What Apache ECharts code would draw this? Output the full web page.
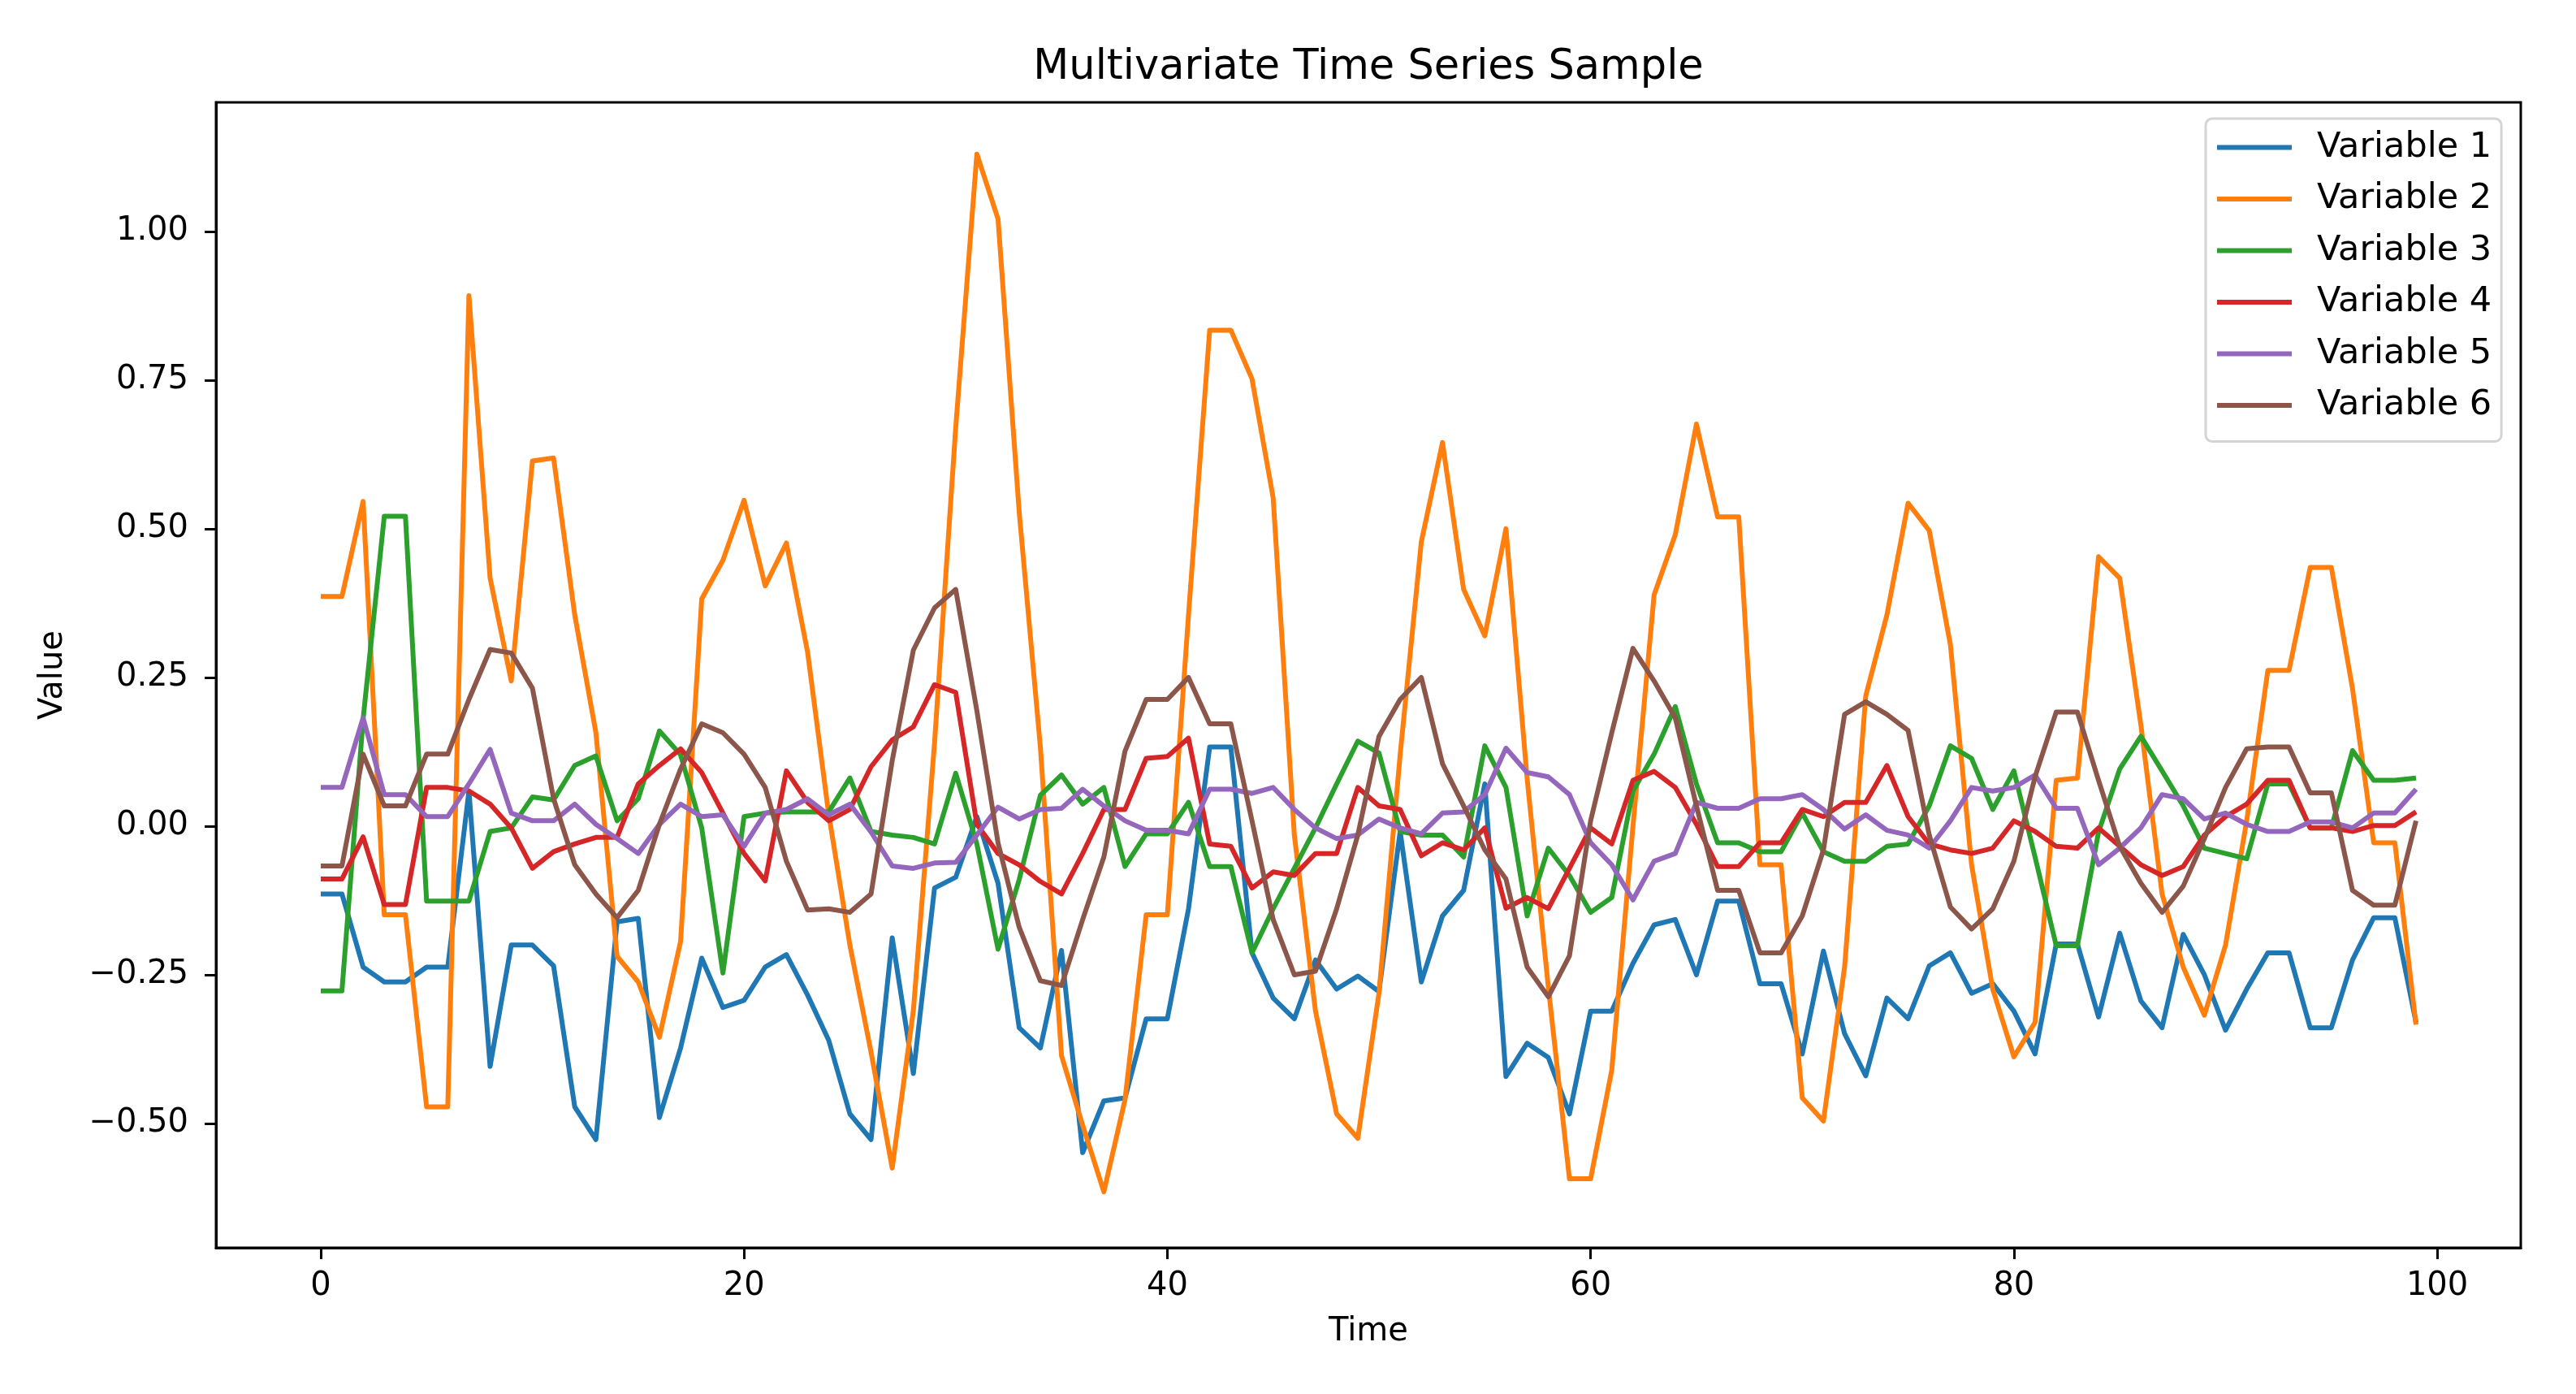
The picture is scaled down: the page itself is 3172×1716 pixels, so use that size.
<!DOCTYPE html>
<html>
<head>
<meta charset="utf-8">
<script src="https://cdn.jsdelivr.net/npm/echarts@6/dist/echarts.min.js"></script>
<style>
html,body{margin:0;padding:0;background:#fff;}
#chart{width:3172px;height:1716px;}
</style>
</head>
<body>
<div id="chart"></div>
<script>
const seriesNames = ['Variable 1','Variable 2','Variable 3','Variable 4','Variable 5','Variable 6'];
const xTicks = [0,20,40,60,80,100];
const yTicks = [-0.5,-0.25,0,0.25,0.5,0.75,1.0];

const variable1 = [-0.114,-0.114,-0.237,-0.262,-0.262,-0.237,-0.237,0.059,-0.404,-0.200,
-0.200,-0.235,-0.472,-0.527,-0.161,-0.155,-0.490,-0.373,-0.222,-0.305,
-0.293,-0.237,-0.216,-0.284,-0.360,-0.484,-0.527,-0.188,-0.416,-0.104,
-0.086,0.016,-0.096,-0.339,-0.373,-0.209,-0.549,-0.462,-0.457,-0.324,
-0.324,-0.139,0.133,0.133,-0.213,-0.289,-0.324,-0.225,-0.274,-0.252,
-0.278,-0.009,-0.262,-0.151,-0.108,0.071,-0.421,-0.365,-0.389,-0.484,
-0.311,-0.311,-0.231,-0.166,-0.157,-0.250,-0.126,-0.126,-0.265,-0.265,
-0.383,-0.210,-0.349,-0.420,-0.289,-0.324,-0.235,-0.213,-0.281,-0.265,
-0.311,-0.383,-0.198,-0.198,-0.321,-0.180,-0.294,-0.339,-0.182,-0.250,
-0.343,-0.274,-0.213,-0.213,-0.339,-0.339,-0.225,-0.154,-0.154,-0.330];

const variable2 = [0.386,0.386,0.546,-0.149,-0.149,-0.472,-0.472,0.892,0.417,0.244,
0.614,0.619,0.355,0.157,-0.219,-0.262,-0.355,-0.194,0.382,0.447,
0.548,0.404,0.476,0.293,0.020,-0.200,-0.380,-0.575,-0.310,0.140,
0.670,1.130,1.021,0.528,0.133,-0.386,-0.503,-0.615,-0.460,-0.149,
-0.149,0.355,0.834,0.834,0.752,0.552,-0.015,-0.311,-0.484,-0.525,
-0.281,0.120,0.478,0.645,0.398,0.320,0.500,0.080,-0.270,-0.593,
-0.593,-0.410,0.000,0.389,0.490,0.676,0.520,0.520,-0.065,-0.065,
-0.457,-0.496,-0.237,0.219,0.355,0.543,0.497,0.305,-0.065,-0.274,
-0.388,-0.330,0.077,0.081,0.453,0.417,0.170,-0.114,-0.237,-0.318,
-0.200,0.009,0.262,0.262,0.435,0.435,0.231,-0.028,-0.028,-0.334];

const variable3 = [-0.277,-0.277,0.180,0.521,0.521,-0.126,-0.126,-0.126,-0.009,-0.003,
0.049,0.044,0.102,0.118,0.009,0.046,0.160,0.120,-0.003,-0.247,
0.016,0.022,0.024,0.024,0.024,0.081,-0.009,-0.015,-0.019,-0.030,
0.089,-0.030,-0.207,-0.090,0.052,0.086,0.037,0.065,-0.068,-0.013,
-0.013,0.040,-0.068,-0.068,-0.213,-0.139,-0.071,-0.003,0.071,0.143,
0.123,-0.009,-0.015,-0.015,-0.052,0.135,0.065,-0.151,-0.037,-0.083,
-0.145,-0.120,0.059,0.121,0.201,0.071,-0.028,-0.028,-0.043,-0.043,
0.022,-0.043,-0.059,-0.059,-0.034,-0.030,0.034,0.135,0.114,0.028,
0.093,-0.052,-0.201,-0.201,-0.010,0.096,0.151,0.093,0.034,-0.037,
-0.046,-0.055,0.071,0.071,-0.003,-0.003,0.127,0.077,0.077,0.081];

const variable4 = [-0.089,-0.089,-0.018,-0.132,-0.132,0.065,0.065,0.059,0.037,-0.003,
-0.071,-0.043,-0.030,-0.019,-0.019,0.071,0.102,0.130,0.090,0.022,
-0.046,-0.092,0.093,0.040,0.009,0.028,0.100,0.145,0.167,0.238,
0.225,0.003,-0.046,-0.065,-0.093,-0.114,-0.046,0.028,0.028,0.114,
0.117,0.148,-0.030,-0.034,-0.104,-0.077,-0.083,-0.046,-0.046,0.065,
0.034,0.028,-0.050,-0.028,-0.040,-0.003,-0.138,-0.120,-0.139,-0.071,
-0.003,-0.030,0.077,0.092,0.065,0.003,-0.068,-0.068,-0.028,-0.028,
0.028,0.016,0.040,0.040,0.102,0.016,-0.030,-0.040,-0.046,-0.037,
0.009,-0.009,-0.034,-0.037,-0.003,-0.034,-0.065,-0.083,-0.068,-0.015,
0.016,0.037,0.077,0.077,-0.003,-0.003,-0.009,0.001,0.001,0.024];

const variable5 = [0.065,0.065,0.182,0.053,0.053,0.016,0.016,0.071,0.129,0.022,
0.009,0.009,0.037,0.003,-0.021,-0.046,0.003,0.037,0.016,0.019,
-0.034,0.022,0.028,0.046,0.019,0.037,-0.010,-0.067,-0.071,-0.062,
-0.061,-0.015,0.032,0.012,0.028,0.030,0.062,0.034,0.009,-0.007,
-0.007,-0.013,0.062,0.062,0.055,0.065,0.028,-0.003,-0.021,-0.015,
0.012,-0.003,-0.013,0.022,0.024,0.053,0.131,0.090,0.083,0.053,
-0.028,-0.065,-0.124,-0.059,-0.046,0.040,0.030,0.030,0.046,0.046,
0.053,0.028,-0.005,0.019,-0.007,-0.015,-0.037,0.009,0.065,0.059,
0.065,0.086,0.030,0.030,-0.065,-0.037,-0.003,0.053,0.046,0.012,
0.022,0.003,-0.009,-0.009,0.007,0.007,-0.003,0.022,0.022,0.062];

const variable6 = [-0.067,-0.067,0.121,0.034,0.034,0.121,0.121,0.213,0.297,0.291,
0.232,0.046,-0.065,-0.114,-0.154,-0.108,0.003,0.096,0.172,0.157,
0.121,0.065,-0.059,-0.141,-0.139,-0.145,-0.114,0.110,0.296,0.367,
0.398,0.194,-0.028,-0.170,-0.260,-0.268,-0.157,-0.052,0.126,0.213,
0.213,0.250,0.172,0.172,0.009,-0.157,-0.250,-0.244,-0.139,-0.015,
0.151,0.213,0.250,0.105,0.034,-0.040,-0.089,-0.237,-0.287,-0.218,
0.009,0.157,0.299,0.244,0.182,0.034,-0.108,-0.108,-0.213,-0.213,
-0.151,-0.040,0.188,0.209,0.188,0.161,-0.015,-0.136,-0.173,-0.139,
-0.059,0.083,0.192,0.192,0.077,-0.034,-0.096,-0.145,-0.101,-0.021,
0.065,0.130,0.133,0.133,0.056,0.056,-0.108,-0.133,-0.133,0.009];

const allValues = [variable1,variable2,variable3,variable4,variable5,variable6];
const colors = ['#1f77b4','#ff7f0e','#2ca02c','#d62728','#9467bd','#8c564b'];
const FONT = 'DejaVu Sans';

const fmt = v => (v < 0 ? '\u2212' : '') + Math.abs(v).toFixed(2);

const chart = echarts.init(document.getElementById('chart'), null, {renderer:'canvas', width:3172, height:1716});

const series = allValues.map((vals, i) => ({
  name: seriesNames[i],
  type: 'line',
  data: vals.map((v, t) => [t, v]),
  showSymbol: false,
  symbol: 'none',
  lineStyle: {width: 6, color: colors[i], join: 'round'},
  itemStyle: {color: colors[i]},
  emphasis: {disabled: true},
  animation: false
}));

chart.setOption({
  animation: false,
  backgroundColor: '#ffffff',
  title: {
    text: 'Multivariate Time Series Sample',
    left: 1685,
    textAlign: 'center',
    top: 58,
    padding: 0,
    textStyle: {fontFamily: FONT, fontSize: 51, fontWeight: 'normal', color: '#000', lineHeight: 51}
  },
  legend: {
    orient: 'vertical',
    left: 2716,
    top: 146,
    padding: [14, 12, 23, 14],
    itemWidth: 92,
    itemHeight: 6,
    itemGap: 20.5,
    icon: 'rect',
    backgroundColor: 'rgba(255,255,255,0.8)',
    borderColor: '#d4d4d4',
    borderWidth: 3,
    borderRadius: 8,
    textStyle: {fontFamily: FONT, fontSize: 43, color: '#000', lineHeight: 43, padding: [0, 0, 0, 26]},
    data: seriesNames
  },
  grid: {
    left: 266, right: 68, top: 126, bottom: 180,
    show: true, borderColor: '#000', borderWidth: 3, backgroundColor: 'transparent'
  },
  xAxis: {
    type: 'value',
    min: -4.95, max: 103.95,
    name: 'Time',
    nameLocation: 'middle',
    nameGap: 84,
    nameTextStyle: {fontFamily: FONT, fontSize: 40, color: '#000'},
    axisLine: {show: true, onZero: false, lineStyle: {color: '#000', width: 3}},
    axisTick: {show: true, length: 14, customValues: xTicks, lineStyle: {color: '#000', width: 3}},
    axisLabel: {customValues: xTicks, margin: 28, fontFamily: FONT, fontSize: 40, color: '#000'},
    splitLine: {show: false}
  },
  yAxis: {
    type: 'value',
    min: -0.709, max: 1.217,
    name: 'Value',
    nameLocation: 'middle',
    nameRotate: 90,
    nameGap: 180,
    nameTextStyle: {fontFamily: FONT, fontSize: 40, color: '#000'},
    axisLine: {show: true, onZero: false, lineStyle: {color: '#000', width: 3}},
    axisTick: {show: true, length: 14, customValues: yTicks, lineStyle: {color: '#000', width: 3}},
    axisLabel: {customValues: yTicks, margin: 34, fontFamily: FONT, fontSize: 40, color: '#000', formatter: fmt},
    splitLine: {show: false}
  },
  series: series
});
</script>
</body>
</html>
